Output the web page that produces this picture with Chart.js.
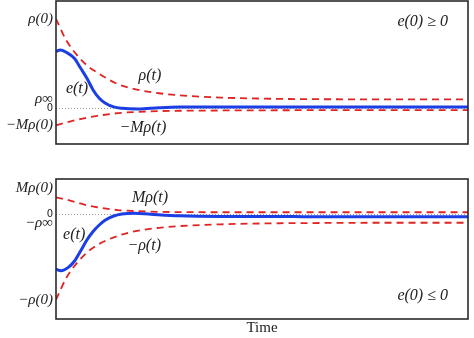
<!DOCTYPE html>
<html>
<head>
<meta charset="utf-8">
<script src="https://cdn.jsdelivr.net/npm/chart.js@4.4.1/dist/chart.umd.min.js"></script>
<style>
  body { margin: 0; background: #fff; }
  #wrap { position: relative; width: 474px; height: 338px; }
  canvas { position: absolute; left: 0; }
</style>
</head>
<body>
<div id="wrap">
  <canvas id="topChart" width="474" height="150" style="top:0px"></canvas>
  <canvas id="bottomChart" width="474" height="168" style="top:170px"></canvas>
</div>
<script>
// time samples for the bound curves
const boundTimes = [0, 0.25, 0.5, 0.75, 1, 1.5, 2, 2.5, 3, 4, 5, 6, 8, 10];

// e(0) >= 0 case
const topRho      = [1.0, 0.76, 0.60, 0.48, 0.40, 0.27, 0.205, 0.168, 0.145, 0.12, 0.108, 0.102, 0.1, 0.1];
const topMinusMRho = [-0.19, -0.16, -0.13, -0.105, -0.085, -0.055, -0.04, -0.032, -0.028, -0.025, -0.023, -0.022, -0.022, -0.022];
const topErrTimes = [0, 0.1, 0.25, 0.45, 0.6, 0.75, 0.9, 1.05, 1.2, 1.4, 1.6, 2.0, 2.5, 3, 4, 6, 8, 10];
const topErr      = [0.635, 0.652, 0.626, 0.557, 0.447, 0.336, 0.205, 0.112, 0.056, 0.015, 0, -0.008, 0.006, 0.014, 0.015, 0.015, 0.015, 0.015];

// e(0) <= 0 case
const botMRho     = [0.19, 0.165, 0.133, 0.1, 0.077, 0.045, 0.032, 0.025, 0.022, 0.02, 0.02, 0.02, 0.02, 0.02];
const botMinusRho = [-0.98, -0.73, -0.565, -0.44, -0.355, -0.25, -0.19, -0.158, -0.138, -0.118, -0.108, -0.104, -0.1, -0.1];
const botErrTimes = [0, 0.12, 0.3, 0.45, 0.6, 0.75, 0.9, 1.05, 1.2, 1.4, 1.6, 1.9, 2.3, 3, 4, 6, 8, 10];
const botErr      = [-0.632, -0.648, -0.61, -0.537, -0.42, -0.297, -0.2, -0.126, -0.069, -0.023, 0, 0.008, -0.003, -0.02, -0.028, -0.03, -0.03, -0.03];

// axis ticks
const topTicks = [1, 0.1, 0, -0.19];
const topTickLabels = ['ρ(0)', 'ρ∞', '0', '−Mρ(0)'];
const botTicks = [0.19, 0, -0.1, -0.98];
const botTickLabels = ['Mρ(0)', '0', '−ρ∞', '−ρ(0)'];

// text inside the plots (data coordinates)
const topNotes = [
    { text: 'ρ(t)', t: 2.28, v: 0.36 },
    { text: 'e(t)', t: 0.51, v: 0.216 },
    { text: '−Mρ(t)', t: 2.11, v: -0.22 },
    { text: 'e(0) ≥ 0', t: 8.9, v: 0.965 }
];
const botNotes = [
    { text: 'Mρ(t)', t: 2.28, v: 0.183 },
    { text: 'e(t)', t: 0.44, v: -0.24 },
    { text: '−ρ(t)', t: 2.14, v: -0.366 },
    { text: 'e(0) ≤ 0', t: 8.9, v: -0.937 }
];

const BLUE = '#1b3fe4';
const RED = '#e02424';
const SERIF = "italic 16px 'Liberation Serif', 'DejaVu Serif', serif";

function pts(xs, ys) {
    return xs.map((x, i) => ({ x: x, y: ys[i] }));
}

const framePlugin = {
    id: 'frame',
    afterDatasetsDraw(chart) {
        const a = chart.chartArea;
        const ctx = chart.ctx;
        ctx.save();
        ctx.strokeStyle = '#2a2a2a';
        ctx.lineWidth = 1.6;
        ctx.strokeRect(a.left, a.top, a.right - a.left, a.bottom - a.top);
        ctx.restore();
    }
};

const notesPlugin = {
    id: 'notes',
    afterDraw(chart) {
        const notes = chart.options.plugins.notes.items;
        const ctx = chart.ctx;
        ctx.save();
        ctx.font = SERIF;
        ctx.fillStyle = '#222';
        ctx.textAlign = 'center';
        ctx.textBaseline = 'middle';
        notes.forEach(n => {
            ctx.fillText(n.text, chart.scales.x.getPixelForValue(n.t), chart.scales.y.getPixelForValue(n.v));
        });
        ctx.restore();
    }
};

function makeChart(id, bounds, errTimes, err, ticks, tickLabels, yMin, yMax, notes, showTime, padTop) {
    const bound = (data) => ({
        data: pts(boundTimes, data),
        borderColor: RED,
        borderWidth: 1.8,
        borderDash: [7, 5],
        pointRadius: 0,
        cubicInterpolationMode: 'monotone',
        fill: false
    });
    const config = {
        type: 'line',
        data: {
            datasets: [
                bound(bounds[0]),
                bound(bounds[1]),
                {
                    data: pts(errTimes, err),
                    borderColor: BLUE,
                    borderWidth: 3,
                    pointRadius: 0,
                    cubicInterpolationMode: 'monotone',
                    fill: false
                }
            ]
        },
        options: {
            responsive: false,
            animation: false,
            devicePixelRatio: 1,
            layout: { padding: { top: padTop, right: 6, bottom: showTime ? 0 : 6, left: 0 } },
            plugins: {
                legend: { display: false },
                tooltip: { enabled: false },
                notes: { items: notes }
            },
            scales: {
                x: {
                    type: 'linear',
                    min: 0,
                    max: 10,
                    display: showTime,
                    ticks: { display: false },
                    grid: { display: false },
                    border: { display: false },
                    title: {
                        display: showTime,
                        text: 'Time',
                        color: '#222',
                        font: { family: "'Liberation Serif', serif", size: 15 },
                        padding: { top: 0, bottom: 1 }
                    },
                    afterFit(scale) { scale.height = showTime ? 19 : 0; }
                },
                y: {
                    min: yMin,
                    max: yMax,
                    afterBuildTicks(scale) {
                        scale.ticks = ticks.map(v => ({ value: v }));
                    },
                    afterFit(scale) {
                        scale.width = 56;
                        scale.paddingTop = 0;
                        scale.paddingBottom = 0;
                    },
                    grid: {
                        drawTicks: false,
                        lineWidth: 1,
                        color: (c) => (c.tick && c.tick.value === 0) ? '#9a9a9a' : 'rgba(0,0,0,0)'
                    },
                    border: { display: false, dash: [1, 2] },
                    ticks: {
                        autoSkip: false,
                        padding: 3,
                        color: '#222',
                        font: (c) => (c.tick && c.tick.value === 0)
                            ? { family: "'DejaVu Sans', sans-serif", size: 10 }
                            : { family: "'Liberation Serif', serif", size: 15, style: 'italic', lineHeight: 1.2 },
                        callback: (value, index) => {
                            const lab = tickLabels[index];
                            return lab === 'Mρ(0)' ? [lab, ''] : lab;
                        }
                    }
                }
            }
        },
        plugins: [framePlugin, notesPlugin]
    };
    return new Chart(document.getElementById(id).getContext('2d'), config);
}

makeChart('topChart', [topRho, topMinusMRho], topErrTimes, topErr, topTicks, topTickLabels, -0.4, 1.2, topNotes, false, 1);
makeChart('bottomChart', [botMRho, botMinusRho], botErrTimes, botErr, botTicks, botTickLabels, -1.2, 0.4, botNotes, true, 9);
</script>
</body>
</html>
